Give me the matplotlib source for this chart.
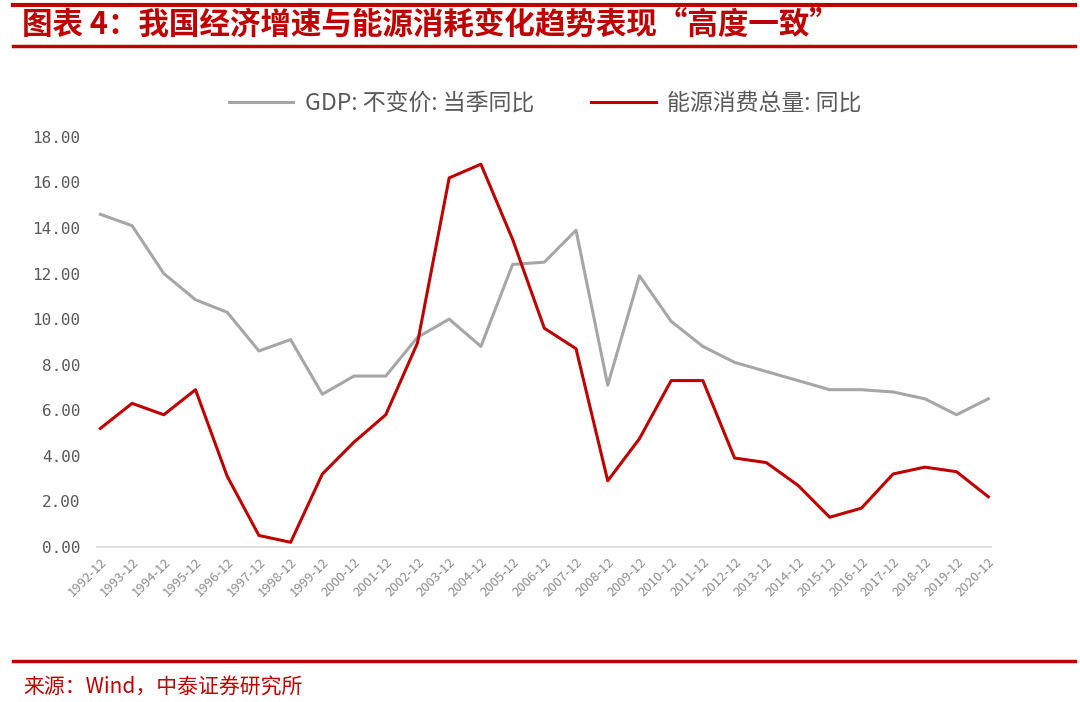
import numpy as np
import matplotlib
matplotlib.use("Agg")
import matplotlib.pyplot as plt
from matplotlib.lines import Line2D

plt.rcParams['font.family'] = ['Noto Sans CJK SC', 'DejaVu Sans']

years = [str(y) + '-12' for y in range(1992, 2021)]
gdp = [14.6, 14.1, 12.0, 10.85, 10.3, 8.6, 9.1, 6.7, 7.5, 7.5,
       9.2, 10.0, 8.8, 12.4, 12.5, 13.9, 7.1, 11.9, 9.9, 8.8,
       8.1, 7.7, 7.3, 6.9, 6.9, 6.8, 6.5, 5.8, 6.5]
energy = [5.2, 6.3, 5.8, 6.9, 3.1, 0.5, 0.2, 3.2, 4.6, 5.8,
          8.95, 16.2, 16.8, 13.5, 9.6, 8.7, 2.9, 4.75, 7.3, 7.3,
          3.9, 3.7, 2.7, 1.3, 1.7, 3.2, 3.5, 3.3, 2.2]
yticks = [0, 2, 4, 6, 8, 10, 12, 14, 16, 18]

red = '#C00000'
gray = '#A6A6A6'

fig = plt.figure(figsize=(10.8, 7.02), dpi=100)
ax = fig.add_axes([0.09, 0.221, 0.828, 0.584])

x = np.arange(len(years))
ax.plot(x, gdp, color=gray, lw=2.2)
ax.plot(x, energy, color=red, lw=2.2)

ax.set_xlim(-0.1, len(years) - 0.9)
ax.set_ylim(0, 18)
ax.set_yticks(yticks)
ax.set_yticklabels(['%.2f' % v for v in yticks], family='DejaVu Sans Mono',
                   fontsize=11.5, color='#595959')
ax.set_xticks(x)
ax.set_xticklabels(years, rotation=45, ha='right', rotation_mode='anchor',
                   fontsize=9.5, color='#8C8C8C')
ax.tick_params(length=0, axis='both')
ax.tick_params(axis='y', pad=12)
ax.tick_params(axis='x', pad=6)
for s in ['top', 'right', 'left']:
    ax.spines[s].set_visible(False)
ax.spines['bottom'].set_color('#D9D9D9')
ax.spines['bottom'].set_linewidth(1.2)

# legend
handles = [Line2D([], [], color=gray, lw=2.2), Line2D([], [], color=red, lw=2.2)]
fig.legend(handles, ['GDP: 不变价: 当季同比', '能源消费总量: 同比'],
           loc='center', bbox_to_anchor=(0.505, 0.853), ncol=2, frameon=False,
           fontsize=16.5, handlelength=2.8, handletextpad=0.5, columnspacing=2.5,
           labelcolor='#595959')

# title and rules
fig.add_artist(Line2D([0.012, 0.995], [0.993, 0.993], color=red, lw=3))
fig.add_artist(Line2D([0.012, 0.995], [0.935, 0.935], color=red, lw=2.5))
fig.text(0.02, 0.964, '图表 4：我国经济增速与能源消耗变化趋势表现“高度一致”',
         color=red, fontsize=22, fontweight='bold', style='italic', va='center')

fig.add_artist(Line2D([0.012, 0.995], [0.059, 0.059], color=red, lw=2.5))
fig.text(0.022, 0.021, '来源：Wind，中泰证券研究所', color=red, fontsize=15,
         va='center')

fig.savefig('out.png', dpi=100)
